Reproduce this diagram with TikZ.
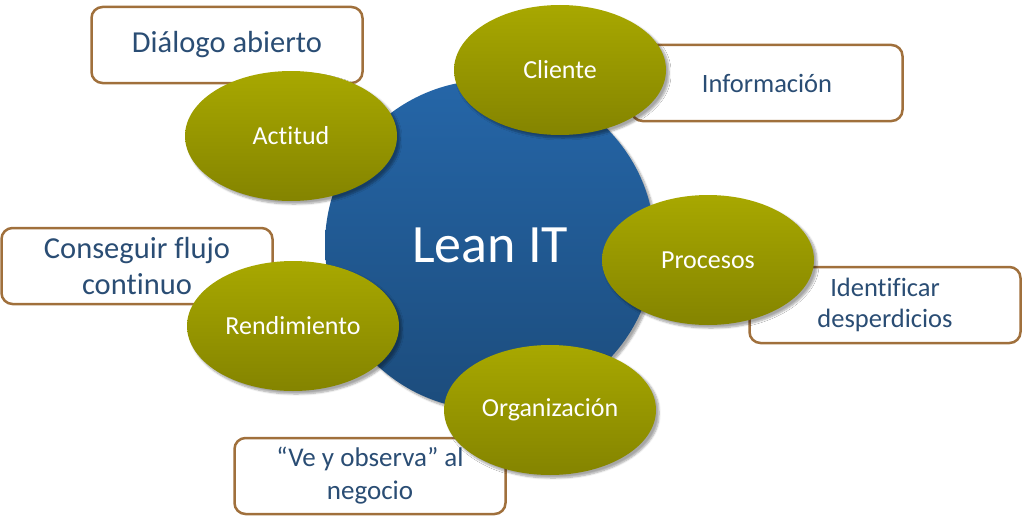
\documentclass[tikz,border=0pt]{standalone}
\usepackage{fontspec}
\setmainfont[Ligatures=NoCommon]{Carlito}
\usetikzlibrary{shapes.geometric,shadows.blur}
\definecolor{boxline}{HTML}{A0703C}
\definecolor{txtblue}{HTML}{2A4D74}
\definecolor{olivetop}{HTML}{A8A800}
\definecolor{olivebot}{HTML}{848400}
\definecolor{bluetop}{HTML}{2566A8}
\definecolor{bluebot}{HTML}{1C4C7C}
\begin{document}
\begin{tikzpicture}[x=1pt,y=-1pt,
  infobox/.style={draw=boxline, line width=2.5pt, rounded corners=11pt, fill=white,
    text=txtblue, font=\fontsize{26.5}{32}\selectfont, align=center,
    minimum width=271pt, minimum height=76pt, inner sep=0pt},
  bigtext/.style={font=\fontsize{30.5}{36}\selectfont},
  topic/.style={ellipse, top color=olivetop, bottom color=olivebot, draw=none,
    minimum width=212pt, minimum height=130pt, inner sep=0pt, text=white,
    font=\fontsize{26}{30}\selectfont,
    blur shadow={shadow xshift=3pt, shadow yshift=-3pt, shadow opacity=35, shadow blur steps=6, shadow blur extra rounding=2pt}},
  hub/.style={circle, top color=bluetop, bottom color=bluebot, draw=none,
    minimum size=330pt, inner sep=0pt, text=white, font=\fontsize{54}{60}\selectfont,
    blur shadow={shadow xshift=3pt, shadow yshift=-3pt, shadow opacity=35, shadow blur steps=6}}]
\useasboundingbox (0,0) rectangle (1024,527);
\node[hub] (lean) at (490,245) {Lean IT};
\node[infobox,bigtext] (bdial) at (227,45) {Diálogo abierto};
\node[infobox] (binfo) at (767,83) {Información};
\node[infobox,bigtext] (bflujo) at (137,266) {Conseguir flujo\\continuo};
\node[infobox,font=\fontsize{26.5}{31}\selectfont] (bdesp) at (885,305) {Identificar\\desperdicios};
\node[infobox,font=\fontsize{27}{33}\selectfont] (bve) at (370,476) {“Ve y observa” al\\negocio};
\node[topic] (actitud) at (291,136) {Actitud};
\node[topic] (cliente) at (560,70) {Cliente};
\node[topic] (procesos) at (708,260) {Procesos};
\node[topic] (rend) at (293,326) {Rendimiento};
\node[topic] (org) at (550,410) {Organización};
\end{tikzpicture}
\end{document}
